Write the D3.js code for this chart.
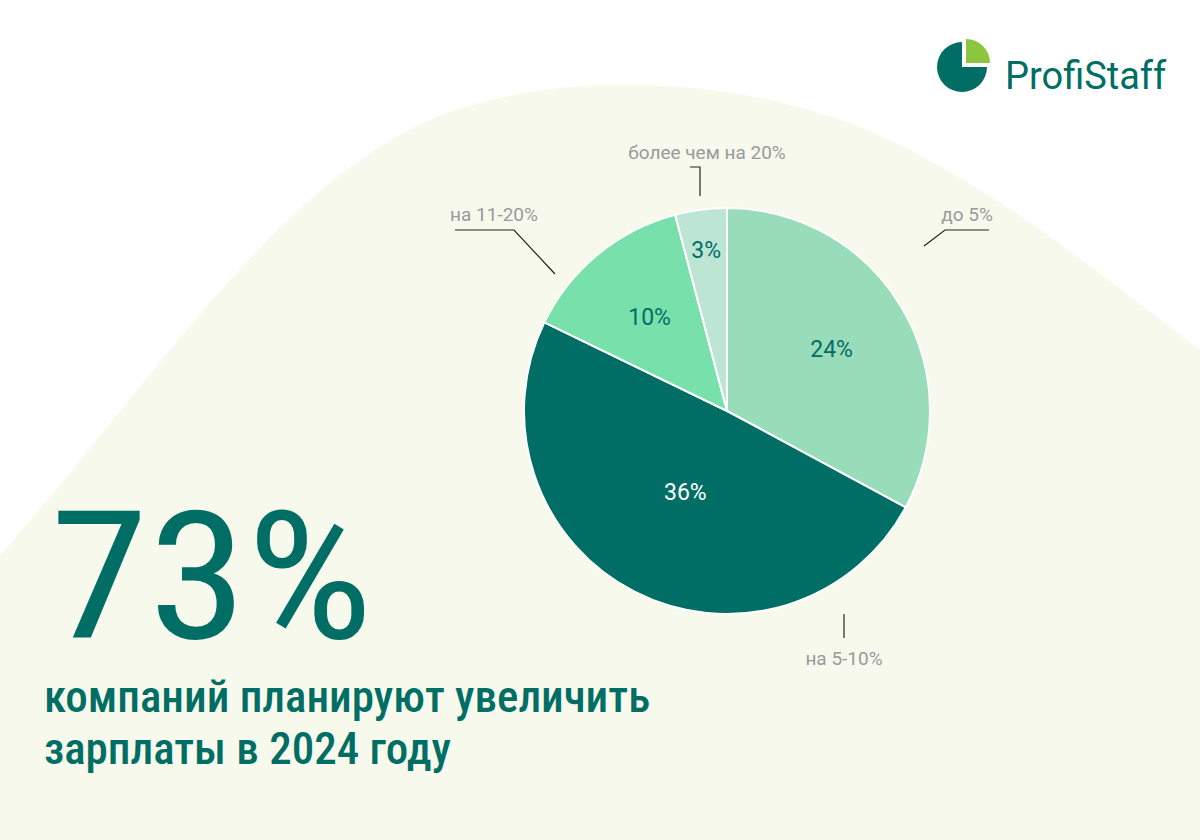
<!DOCTYPE html>
<html><head><meta charset="utf-8">
<script src="https://cdn.jsdelivr.net/npm/d3@7"></script>
<style>body{margin:0;background:#fff}svg{display:block}</style>
</head><body>
<script>
const categories = ["до 5%", "на 5-10%", "на 11-20%", "более чем на 20%"];
const values = [24, 36, 10, 3];
const sliceColors = ["#99dcb9", "#016e65", "#78e0aa", "#bce6d3"];
const valueTextColors = ["#016e65", "#ffffff", "#016e65", "#016e65"];
const bigNumber = "73%";
const caption = ["компаний планируют увеличить", "зарплаты в 2024 году"];

const W = 1200, H = 840;
const svg = d3.select("body").append("svg").attr("width", W).attr("height", H);
const font = "'Roboto Condensed','Liberation Sans Narrow','Roboto',sans-serif";
const plain = "Roboto,sans-serif";

// background blob
svg.append("path")
  .attr("d", "M0,555 C140,400 270,190 430,120 C560,65 760,75 900,145 C1020,205 1120,290 1200,350 L1200,840 L0,840 Z")
  .attr("fill", "#f6f9ec");

// logo
const logo = svg.append("g").attr("transform", "translate(962,67)");
logo.append("path").attr("d", d3.arc()({innerRadius: 0, outerRadius: 25, startAngle: Math.PI / 2, endAngle: 2 * Math.PI}))
  .attr("fill", "#016e65");
logo.append("path").attr("transform", "translate(4,-4)")
  .attr("d", d3.arc()({innerRadius: 0, outerRadius: 24, startAngle: 0, endAngle: Math.PI / 2}))
  .attr("fill", "#8cc63f");
svg.append("text").attr("x", 1005).attr("y", 89).attr("font-family", plain)
  .attr("font-size", 38).attr("fill", "#016e65").text("ProfiStaff");

// pie
const cx = 727, cy = 411, R = 203;
const pie = d3.pie().sort(null).value(d => d)(values);
const arc = d3.arc().innerRadius(0).outerRadius(R);
const g = svg.append("g").attr("transform", `translate(${cx},${cy})`);
g.selectAll("path").data(pie).join("path")
  .attr("d", arc).attr("fill", (d, i) => sliceColors[i])
  .attr("stroke", "#fff").attr("stroke-width", 2);

const labelR = [0.6, 0.45, 0.6, 0.8];
g.selectAll("text.v").data(pie).join("text").attr("class", "v")
  .attr("transform", (d, i) => {
    const a = (d.startAngle + d.endAngle) / 2;
    return `translate(${Math.sin(a) * R * labelR[i]},${-Math.cos(a) * R * labelR[i]})`;
  })
  .attr("text-anchor", "middle").attr("dy", "0.35em")
  .attr("font-family", plain).attr("font-size", 23)
  .attr("fill", (d, i) => valueTextColors[i])
  .text(d => d.value + "%");

// leader lines & outside labels (offsets relative to pie centre)
const leaders = [
  {pts: [[197, -165], [218, -181], [262, -181]], tx: 240, ty: -190},
  {pts: [[117, 203], [117, 227]], tx: 117, ty: 254},
  {pts: [[-172, -137], [-213, -181], [-272, -181]], tx: -233, ty: -190},
  {pts: [[-27, -215], [-27, -244], [-37, -244]], tx: -20, ty: -252}
];
const line = d3.line();
leaders.forEach((l, i) => {
  g.append("path").attr("d", line(l.pts)).attr("fill", "none").attr("stroke", "#222").attr("stroke-width", 1.2);
  g.append("text").attr("x", l.tx).attr("y", l.ty).attr("text-anchor", "middle")
    .attr("font-family", plain).attr("font-size", 19).attr("fill", "#9a9a9a").text(categories[i]);
});

// headline
svg.append("text").attr("transform", "translate(50,638) scale(1.12,1)").attr("font-family", font)
  .attr("font-size", 178).attr("fill", "#016e65").text(bigNumber);
caption.forEach((t, i) => svg.append("text").attr("x", 44).attr("y", 712 + i * 52)
  .attr("font-family", font).attr("font-size", 45).attr("font-weight", 500).attr("fill", "#016e65").text(t));
</script>
</body></html>
